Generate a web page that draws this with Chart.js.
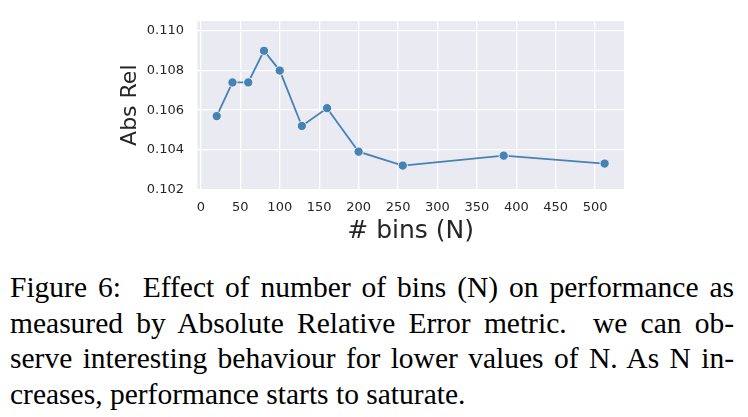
<!DOCTYPE html>
<html>
<head>
<meta charset="utf-8">
<script src="https://cdn.jsdelivr.net/npm/chart.js@4"></script>
<style>
  html, body { margin: 0; padding: 0; background: #fff; }
  body { width: 748px; height: 417px; position: relative; overflow: hidden; }
  #wrap { position: absolute; left: 0; top: 0; width: 748px; height: 260px; }
  #caption {
    position: absolute; left: 10px; top: 270px;
    width: 724px;
    font-family: "Liberation Serif", "Times New Roman", serif;
    font-size: 29.5px; line-height: 35.5px; color: #000;
  }
  #caption div { text-align: justify; text-align-last: justify; white-space: nowrap; }
  #caption div.last { text-align-last: left; }
</style>
</head>
<body>
<div id="wrap"><canvas id="binsChart"></canvas></div>
<div id="caption">
  <div>Figure 6:&nbsp; Effect of number of bins (N) on performance as</div>
  <div>measured by Absolute Relative Error metric.&nbsp; we can ob-</div>
  <div>serve interesting behaviour for lower values of N. As N in-</div>
  <div class="last">creases, performance starts to saturate.</div>
</div>
<script>
// number of bins vs Abs Rel error
const binCounts = [20, 40, 60, 80, 100, 128, 160, 200, 256, 384, 512];
const absRel = [0.1057, 0.1074, 0.1074, 0.1090, 0.1080, 0.1052, 0.1061, 0.1039, 0.1032, 0.1037, 0.1033];
const xTickValues = [0, 50, 100, 150, 200, 250, 300, 350, 400, 450, 500];
const yTickValues = [0.102, 0.104, 0.106, 0.108, 0.110];

const tickFont = { family: '"DejaVu Sans", sans-serif', size: 13 };

// seaborn style grey panel behind the plot
const panelBackground = {
    id: 'panelBackground',
    beforeDraw(chart) {
        const a = chart.chartArea;
        const c = chart.ctx;
        c.save();
        c.fillStyle = '#EAEAF2';
        c.fillRect(a.left, a.top, a.right - a.left, a.bottom - a.top);
        c.restore();
    }
};

const canvas = document.getElementById('binsChart');
canvas.style.width = '748px';
canvas.style.height = '260px';

new Chart(canvas.getContext('2d'), {
    type: 'line',
    data: {
        datasets: [{
            data: binCounts.map((n, i) => ({ x: n, y: absRel[i] })),
            borderColor: '#4682B4',
            backgroundColor: '#4682B4',
            borderWidth: 1.8,
            pointBackgroundColor: '#4682B4',
            pointBorderColor: '#ffffff',
            pointBorderWidth: 0.8,
            pointRadius: 4.6,
            tension: 0,
            fill: false
        }]
    },
    options: {
        responsive: false,
        animation: false,
        devicePixelRatio: 1,
        layout: {
            autoPadding: false,
            padding: { top: 12, left: 117, right: 124, bottom: 14 }
        },
        plugins: {
            legend: { display: false },
            tooltip: { enabled: false }
        },
        scales: {
            x: {
                type: 'linear',
                min: -4.6,
                max: 536.6,
                afterFit: function(scale) { scale.height = 56.7; },
                afterBuildTicks: function(scale) {
                    scale.ticks = xTickValues.map(v => ({ value: v }));
                },
                ticks: {
                    autoSkip: false,
                    maxRotation: 0,
                    padding: 10.9,
                    color: '#262626',
                    font: tickFont
                },
                grid: { color: '#ffffff', lineWidth: 1.3, drawTicks: false },
                border: { display: false },
                title: {
                    display: true,
                    text: '# bins (N)',
                    color: '#262626',
                    font: { family: '"DejaVu Sans", sans-serif', size: 25 },
                    padding: { top: 0, bottom: 0 }
                }
            },
            y: {
                min: 0.102,
                max: 0.1105,
                afterFit: function(scale) { scale.width = 80.3; },
                afterBuildTicks: function(scale) {
                    scale.ticks = yTickValues.map(v => ({ value: v }));
                },
                ticks: {
                    padding: 13.3,
                    color: '#262626',
                    font: tickFont,
                    callback: v => v.toFixed(3)
                },
                grid: { color: '#ffffff', lineWidth: 1.3, drawTicks: false },
                border: { display: false },
                title: {
                    display: true,
                    text: 'Abs Rel',
                    color: '#262626',
                    font: { family: '"DejaVu Sans", sans-serif', size: 22 },
                    padding: { top: 0, bottom: 0 }
                }
            }
        }
    },
    plugins: [panelBackground]
});
</script>
</body>
</html>
